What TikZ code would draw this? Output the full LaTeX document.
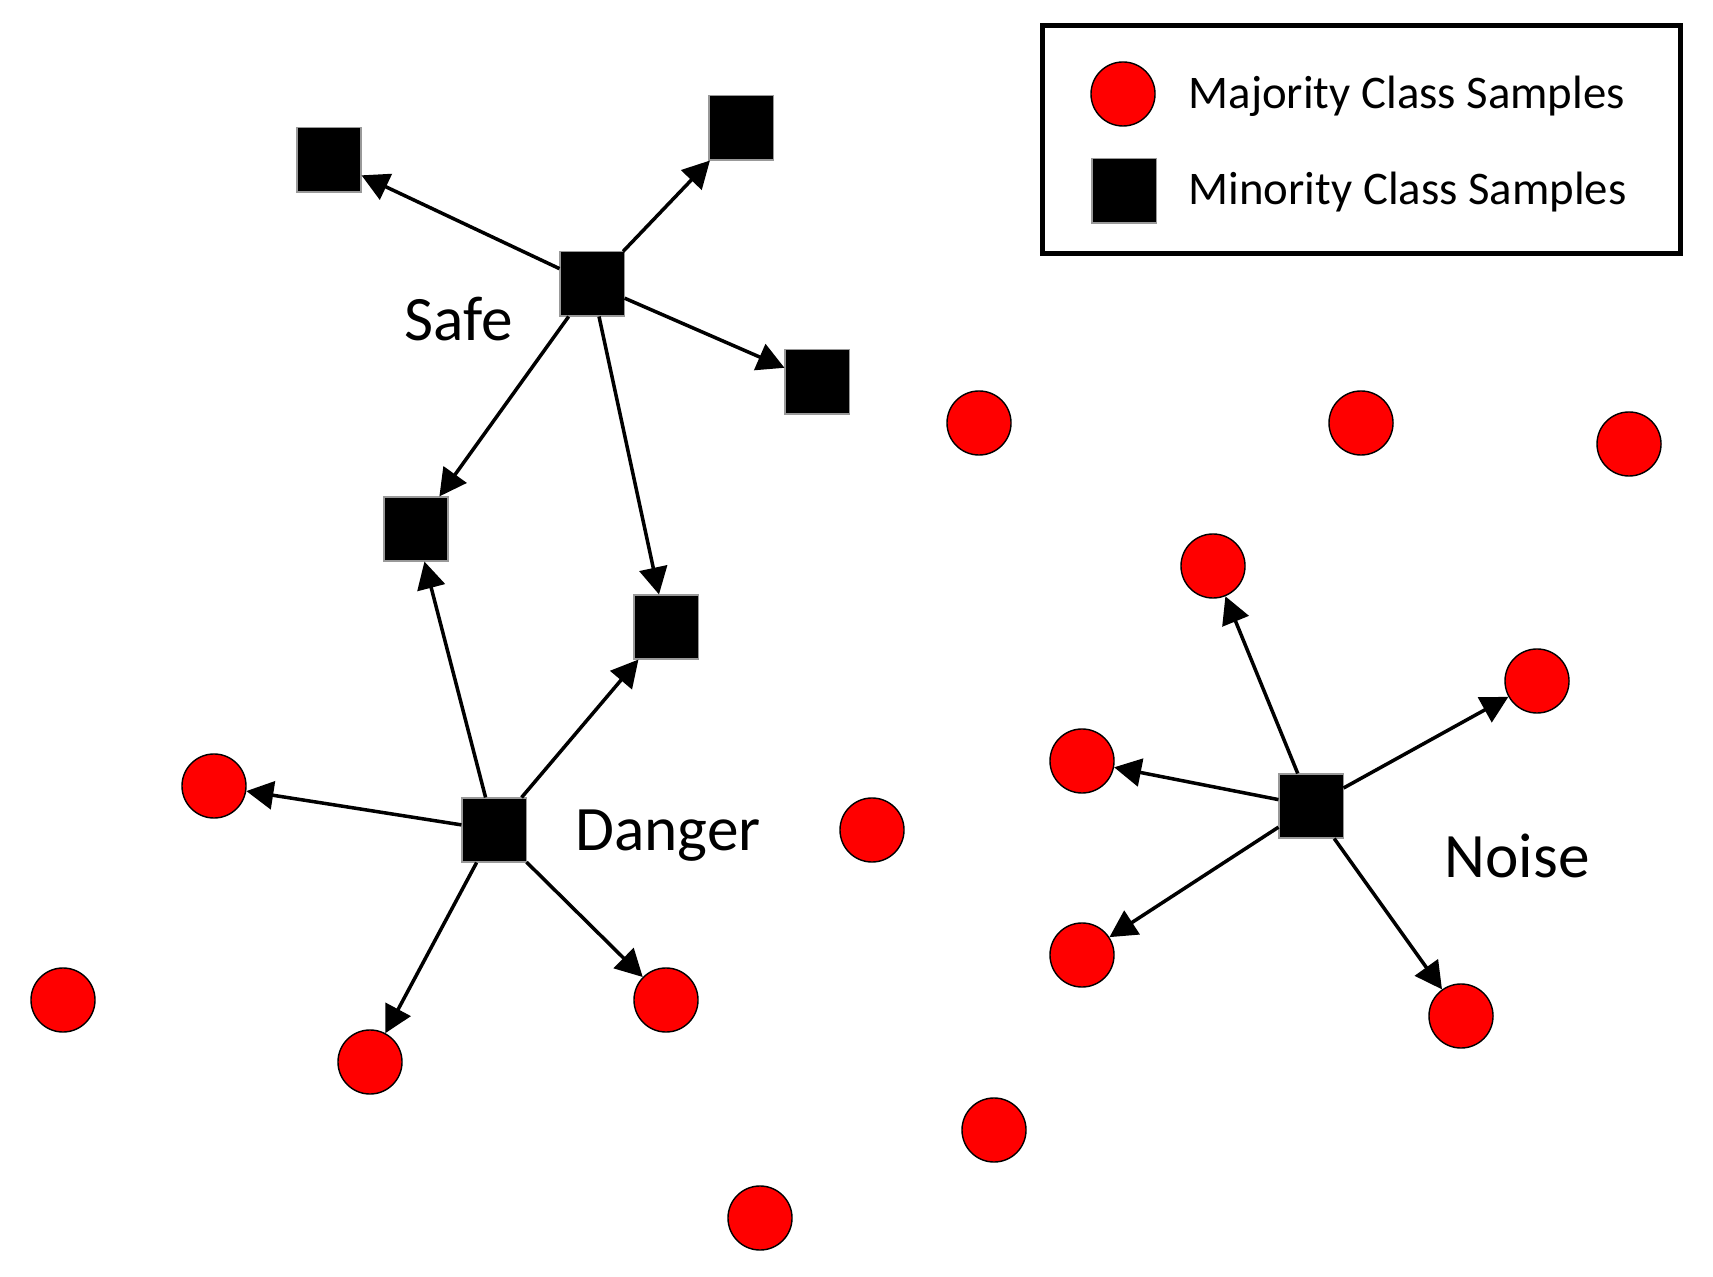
\documentclass[tikz,border=0pt]{standalone}
\usepackage{fontspec}
\setmainfont{Carlito}
\usetikzlibrary{arrows.meta,positioning,shapes.geometric}
\definecolor{majred}{RGB}{255,0,0}
\tikzset{
  maj/.style={circle,draw=black,line width=0.4pt,fill=majred,minimum size=0.64cm,inner sep=0pt},
  mino/.style={rectangle,fill=black,draw=black!40,line width=0.3pt,minimum size=0.64cm,inner sep=0pt},
  arr/.style={-{Triangle[length=0.27cm,width=0.28cm]},line width=1pt,black},
  lbl/.style={font=\fontsize{18}{21}\selectfont,inner sep=0pt},
  legtxt/.style={font=\fontsize{13.3}{16}\selectfont,inner sep=0pt,anchor=base west},
  legbox/.style={draw=black,line width=1.4pt,minimum width=6.37cm,minimum height=2.27cm,inner sep=0pt},
}
\begin{document}
\begin{tikzpicture}[x=0.01cm,y=-0.01cm]
  \useasboundingbox (0,0) rectangle (1713,1277);
  % minority samples
  \node[mino] (safe) at (592,284) {};
  \node[mino] (s1) at (329,160) {};
  \node[mino] (s2) at (741,128) {};
  \node[mino] (s3) at (817,382) {};
  \node[mino] (s4) at (416,529) {};
  \node[mino] (s5) at (666,627) {};
  \node[mino] (danger) at (494,830) {};
  \node[mino] (noise) at (1311,806) {};
  % majority samples
  \node[maj] (m1) at (979,423) {};
  \node[maj] (m2) at (1361,423) {};
  \node[maj] (m3) at (1629,444) {};
  \node[maj] (m4) at (1213,566) {};
  \node[maj] (m5) at (1537,681) {};
  \node[maj] (m6) at (1082,761) {};
  \node[maj] (m7) at (214,786) {};
  \node[maj] (m8) at (872,830) {};
  \node[maj] (m9) at (1082,955) {};
  \node[maj] (m10) at (1461,1016) {};
  \node[maj] (m11) at (63,1000) {};
  \node[maj] (m12) at (666,1000) {};
  \node[maj] (m13) at (370,1062) {};
  \node[maj] (m14) at (994,1130) {};
  \node[maj] (m15) at (760,1218) {};
  % labels
  \node[lbl] (safelbl) at (459,319) {Safe};
  \node[lbl] (dangerlbl) at (668,836) {Danger};
  \node[lbl] (noiselbl) at (1517,856) {Noise};
  % neighbours
  \foreach \t in {s1,s2,s3,s4,s5}
    \draw[arr] (safe) -- (\t);
  \foreach \t in {s4,s5,m7,m12,m13}
    \draw[arr] (danger) -- (\t);
  \foreach \t in {m4,m5,m6,m9,m10}
    \draw[arr] (noise) -- (\t);
  % legend
  \node[legbox] (legend) at (1361.5,139.5) {};
  \node[maj] (legmaj) at (1123,94) {};
  \node[mino] (legmin) at (1124,191) {};
  \node[legtxt] (legmajtxt) at (1188,109) {Majority Class Samples};
  \node[legtxt] (legmintxt) at (1188,205) {Minority Class Samples};
\end{tikzpicture}
\end{document}
